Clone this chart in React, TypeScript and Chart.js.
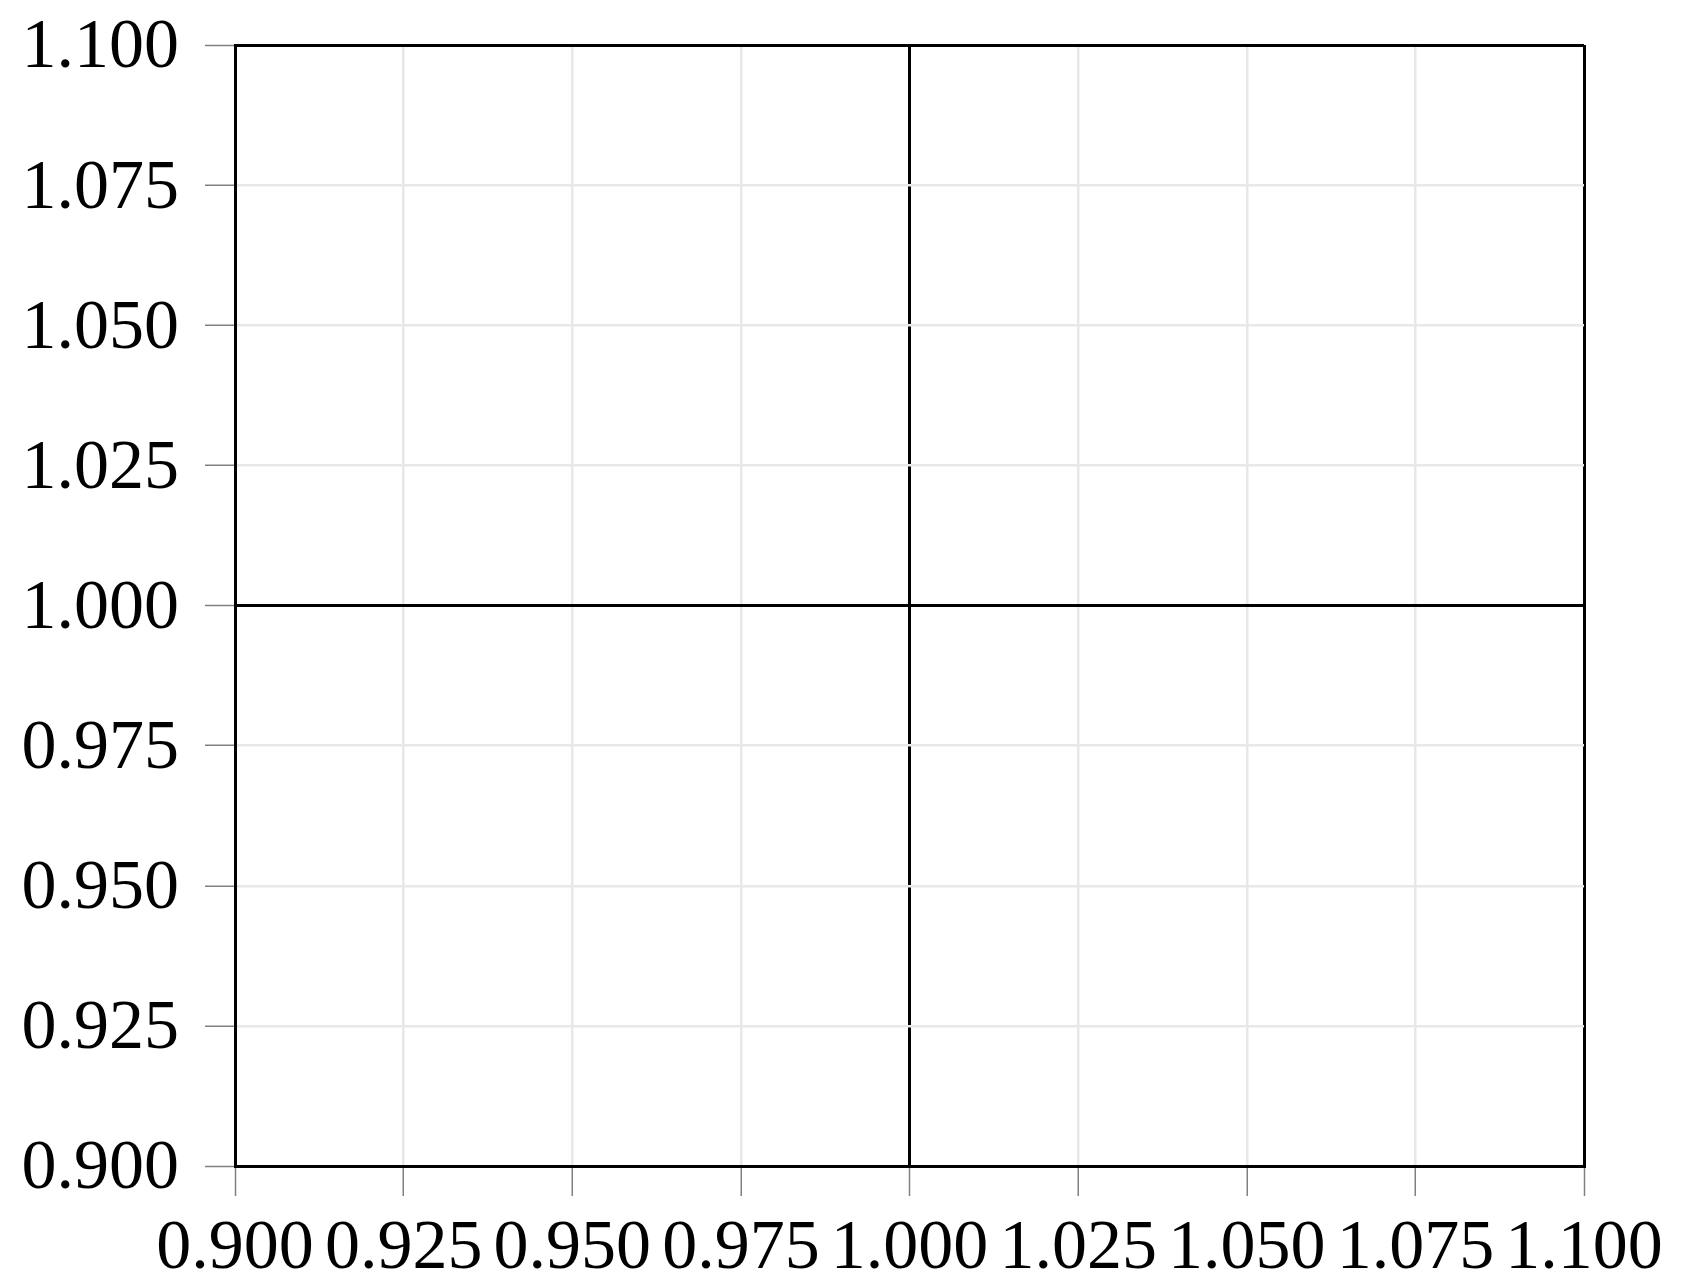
import { useEffect, useRef } from 'react';
import { Chart, registerables } from 'chart.js';

Chart.register(...registerables);

const xTickValues = [0.9, 0.925, 0.95, 0.975, 1.0, 1.025, 1.05, 1.075, 1.1];
const yTickValues = [0.9, 0.925, 0.95, 0.975, 1.0, 1.025, 1.05, 1.075, 1.1];
const darkLines = [0.9, 1.0, 1.1];

const isDark = (v: number) => darkLines.some((d) => Math.abs(d - v) < 1e-6);

const App = () => {
  const canvasRef = useRef<HTMLCanvasElement>(null);
  const chartRef = useRef<Chart | null>(null);

  useEffect(() => {
    if (!canvasRef.current) return;
    if (chartRef.current) chartRef.current.destroy();

    const font = { family: '"Liberation Serif", serif', size: 70 };

    const gridFor = () => ({
      color: (c: any) => (isDark(c.tick?.value) ? '#000000' : '#e8e8e8'),
      lineWidth: (c: any) => (isDark(c.tick?.value) ? 3 : 2.5),
      tickColor: '#808080',
      tickWidth: 1.5,
      tickLength: 30,
      drawTicks: true,
    });

    chartRef.current = new Chart(canvasRef.current, {
      type: 'scatter',
      data: { datasets: [] },
      options: {
        animation: false,
        responsive: true,
        maintainAspectRatio: false,
        devicePixelRatio: 1,
        layout: { padding: { left: 0, right: 102, top: 45, bottom: 0 } },
        plugins: { legend: { display: false }, tooltip: { enabled: false } },
        scales: {
          x: {
            type: 'linear',
            min: 0.9,
            max: 1.1,
            afterBuildTicks: (scale: any) => {
              scale.ticks = xTickValues.map((v) => ({ value: v }));
            },
            afterFit: (scale: any) => {
              scale.height = 122;
              scale.paddingLeft = 0;
              scale.paddingRight = 0;
            },
            grid: gridFor(),
            border: { display: true, color: '#000000', width: 3 },
            ticks: {
              font,
              color: '#000000',
              padding: 12,
              maxRotation: 0,
              autoSkip: false,
              callback: (v: any) => Number(v).toFixed(3),
            },
          },
          y: {
            type: 'linear',
            min: 0.9,
            max: 1.1,
            afterBuildTicks: (scale: any) => {
              scale.ticks = yTickValues.map((v) => ({ value: v }));
            },
            afterFit: (scale: any) => {
              scale.width = 235;
              scale.paddingTop = 0;
              scale.paddingBottom = 0;
            },
            grid: gridFor(),
            border: { display: true, color: '#000000', width: 3 },
            ticks: {
              font,
              color: '#000000',
              padding: 26,
              labelOffset: 4,
              autoSkip: false,
              callback: (v: any) => Number(v).toFixed(3),
            },
          },
        },
      },
    });

    return () => {
      if (chartRef.current) {
        chartRef.current.destroy();
        chartRef.current = null;
      }
    };
  }, []);

  return (
    <div style={{ position: 'fixed', left: 0, top: 0, width: 1686, height: 1288, background: '#ffffff' }}>
      <canvas ref={canvasRef} />
    </div>
  );
};

export default App;
